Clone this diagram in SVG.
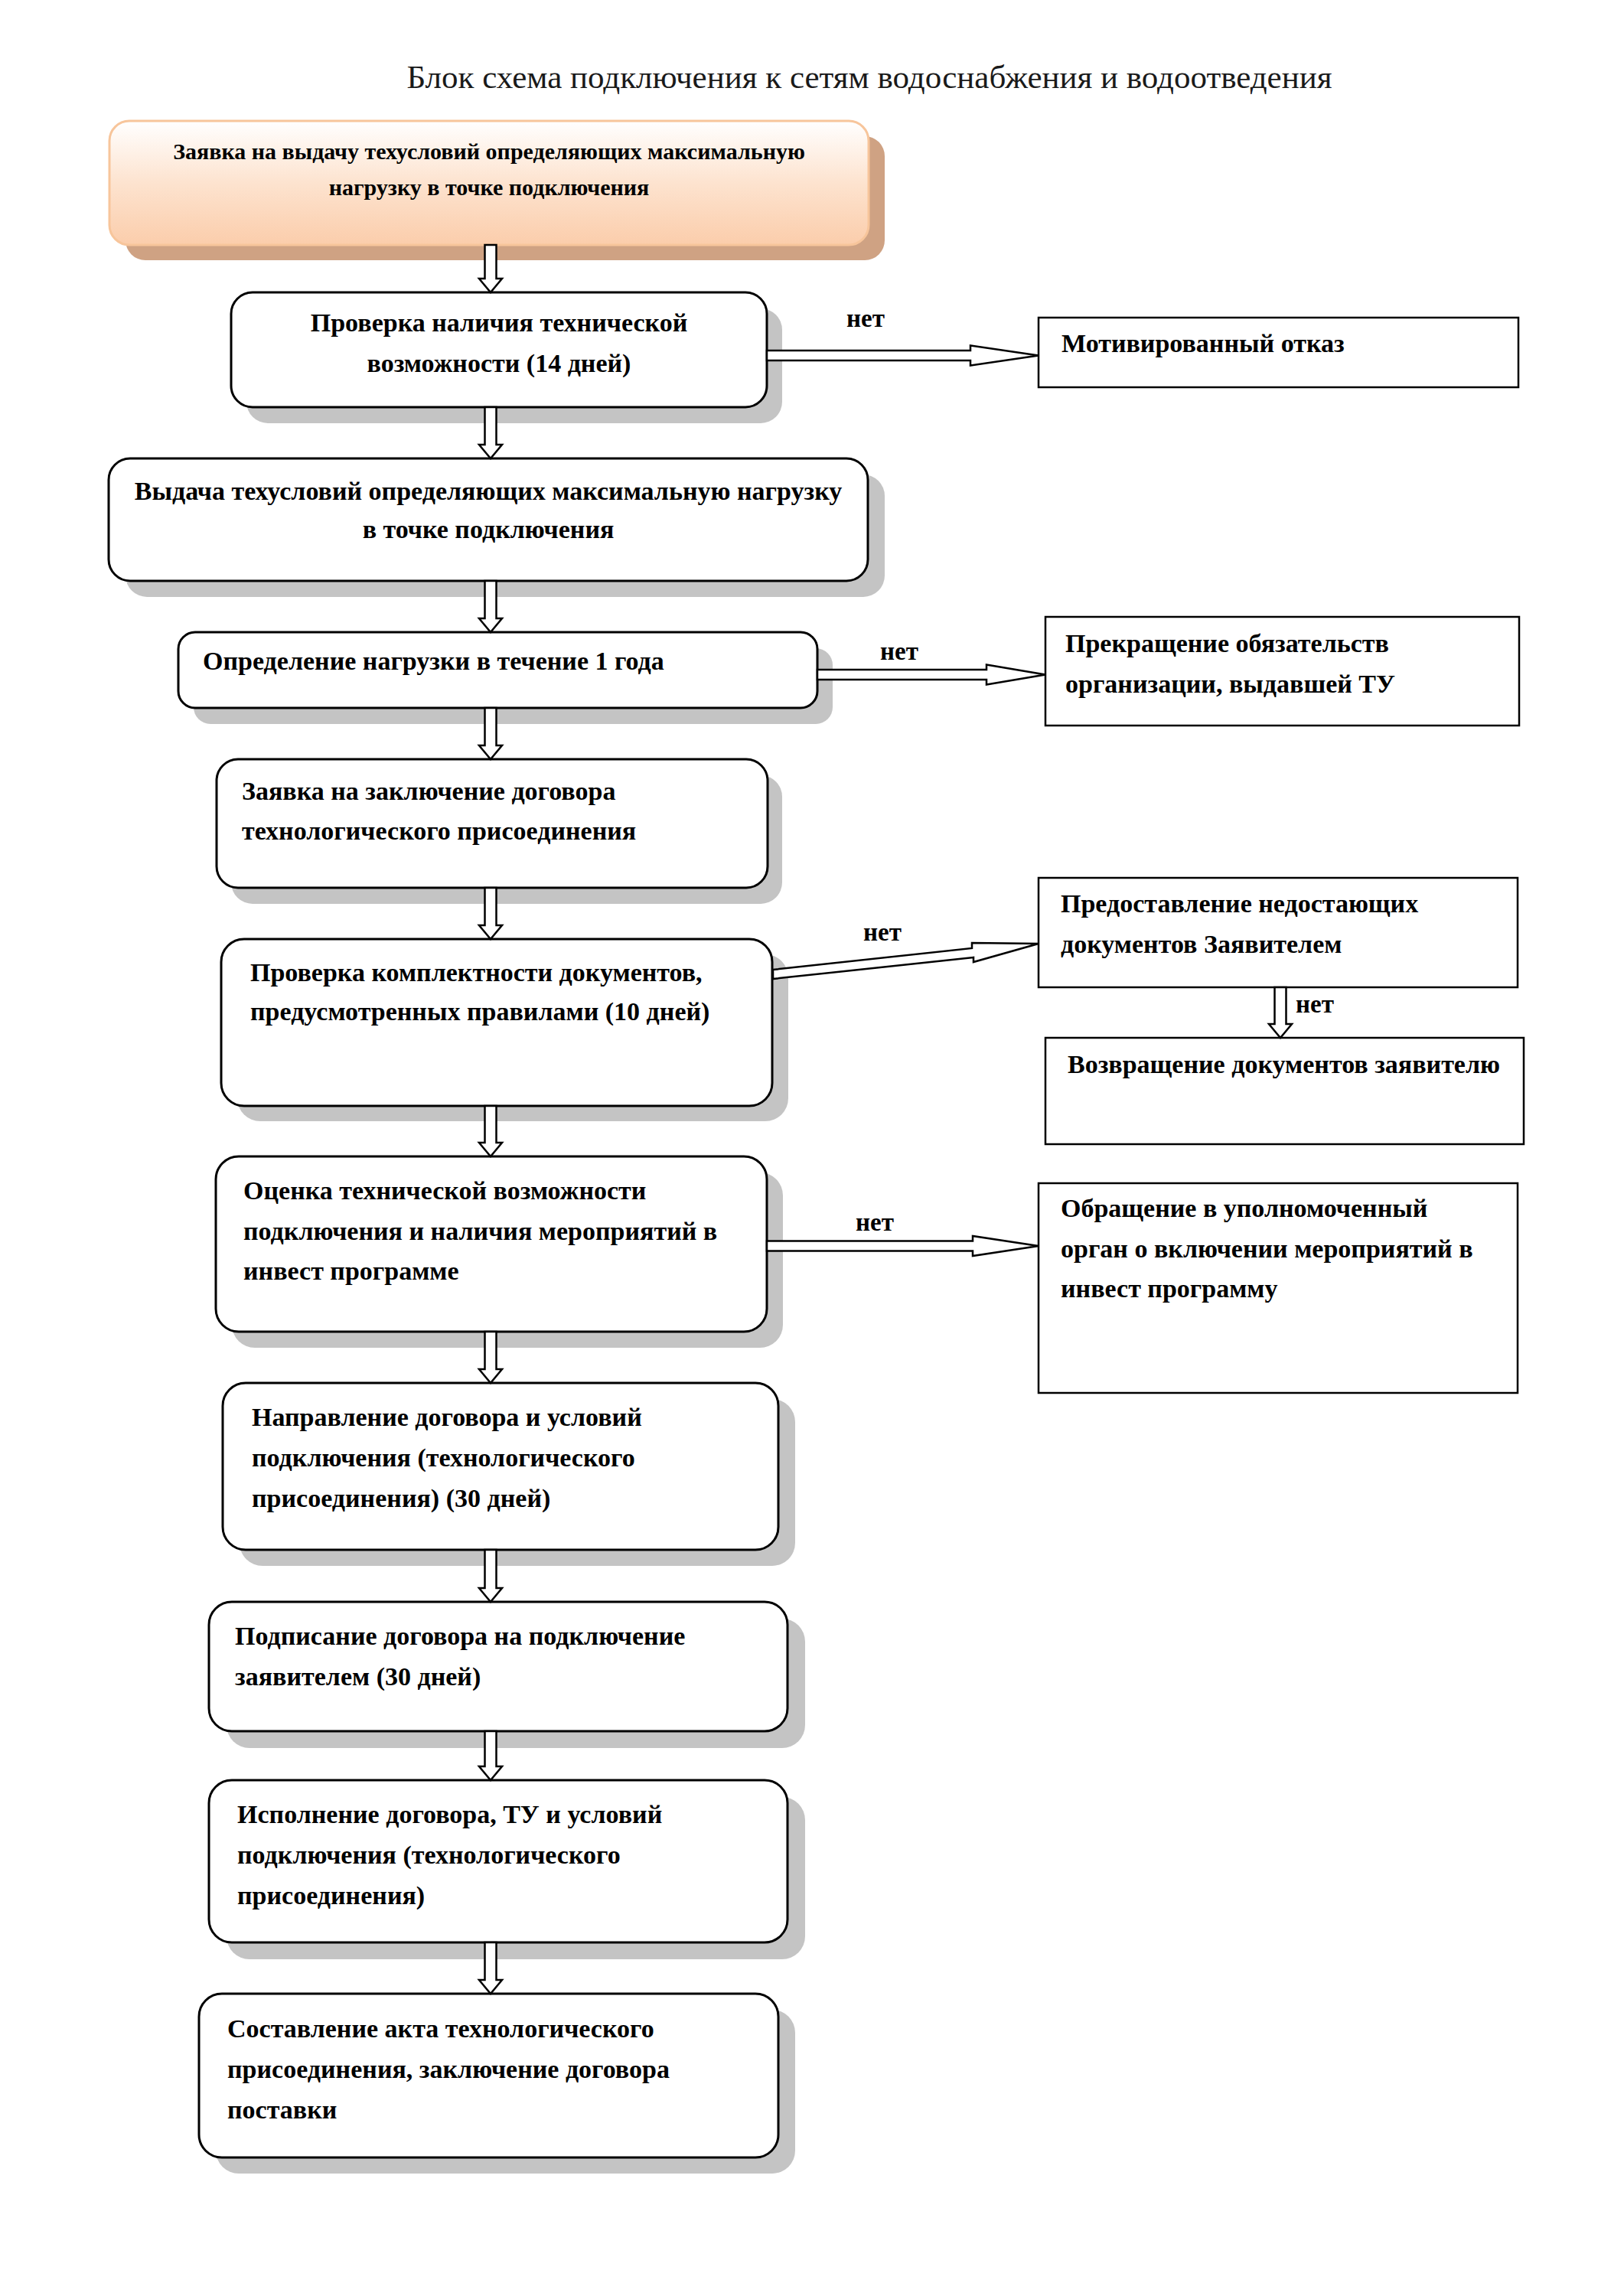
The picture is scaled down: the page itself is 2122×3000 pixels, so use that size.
<svg xmlns="http://www.w3.org/2000/svg" width="2122" height="3000" viewBox="0 0 2122 3000">
<style>
.t{font-family:"Liberation Serif","Times New Roman",serif;font-weight:bold;font-size:34px;fill:#000}
.t1{font-size:30px}
.c{text-anchor:middle}
.title{font-family:"Liberation Serif","Times New Roman",serif;font-size:43px;fill:#1a1a1a;text-anchor:middle}
.box{fill:#fff;stroke:#000;stroke-width:3}
.sh{fill:#c4c4c4}
.rbox{fill:#fff;stroke:#000;stroke-width:2.5}
.arr{fill:#fff;stroke:#000;stroke-width:2.5;stroke-linejoin:miter}
.lbl{font-family:"Liberation Serif","Times New Roman",serif;font-weight:bold;font-size:33px;fill:#000}
</style>
<defs>
<linearGradient id="peach" x1="0" y1="0" x2="0" y2="1">
<stop offset="0" stop-color="#ffffff"/>
<stop offset="0.5" stop-color="#fde3cf"/>
<stop offset="1" stop-color="#fbcdab"/>
</linearGradient>
</defs>
<rect width="2122" height="3000" fill="#fff"/>
<text class="title" x="1136" y="115">Блок схема подключения к сетям водоснабжения и водоотведения</text>

<g id="n1">
<rect x="164" y="178" width="992" height="162" rx="26" fill="#cfa283"/>
<rect x="143" y="158" width="992" height="162" rx="26" fill="url(#peach)" stroke="#f7c59b" stroke-width="3"/>
<text class="t t1 c" x="639" y="208">Заявка на выдачу техусловий определяющих максимальную</text>
<text class="t t1 c" x="639" y="255">нагрузку в точке подключения</text>
</g>
<g id="n2">
<rect class="sh" x="322" y="403" width="700" height="150" rx="28"/>
<rect class="box" x="302" y="382" width="700" height="150" rx="28"/>
<text class="t c" x="652" y="433">Проверка наличия технической</text>
<text class="t c" x="652" y="486">возможности (14 дней)</text>
</g>
<g id="n3">
<rect class="sh" x="164" y="620" width="992" height="160" rx="28"/>
<rect class="box" x="142" y="599" width="992" height="160" rx="28"/>
<text class="t c" x="638" y="653">Выдача техусловий определяющих максимальную нагрузку</text>
<text class="t c" x="638" y="703">в точке подключения</text>
</g>
<g id="n4">
<rect class="sh" x="253" y="847" width="835" height="99" rx="22"/>
<rect class="box" x="233" y="826" width="835" height="99" rx="22"/>
<text class="t" x="265" y="875">Определение нагрузки в течение 1 года</text>
</g>
<g id="n5">
<rect class="sh" x="302" y="1013" width="720" height="168" rx="28"/>
<rect class="box" x="283" y="992" width="720" height="168" rx="28"/>
<text class="t" x="316" y="1045">Заявка на заключение договора</text>
<text class="t" x="316" y="1097">технологического присоединения</text>
</g>
<g id="n6">
<rect class="sh" x="310" y="1247" width="720" height="218" rx="30"/>
<rect class="box" x="289" y="1227" width="720" height="218" rx="30"/>
<text class="t" x="327" y="1282">Проверка комплектности документов,</text>
<text class="t" x="327" y="1333">предусмотренных правилами (10 дней)</text>
</g>
<g id="n7">
<rect class="sh" x="303" y="1532" width="720" height="229" rx="30"/>
<rect class="box" x="282" y="1511" width="720" height="229" rx="30"/>
<text class="t" x="318" y="1567">Оценка технической возможности</text>
<text class="t" x="318" y="1620">подключения и наличия мероприятий в</text>
<text class="t" x="318" y="1672">инвест программе</text>
</g>
<g id="n8">
<rect class="sh" x="313" y="1828" width="726" height="218" rx="30"/>
<rect class="box" x="291" y="1807" width="726" height="218" rx="30"/>
<text class="t" x="329" y="1863">Направление договора и условий</text>
<text class="t" x="329" y="1916">подключения (технологического</text>
<text class="t" x="329" y="1969">присоединения) (30 дней)</text>
</g>
<g id="n9">
<rect class="sh" x="296" y="2115" width="756" height="169" rx="30"/>
<rect class="box" x="273" y="2093" width="756" height="169" rx="30"/>
<text class="t" x="307" y="2149">Подписание договора на подключение</text>
<text class="t" x="307" y="2202">заявителем (30 дней)</text>
</g>
<g id="n10">
<rect class="sh" x="296" y="2348" width="756" height="212" rx="30"/>
<rect class="box" x="273" y="2326" width="756" height="212" rx="30"/>
<text class="t" x="310" y="2382">Исполнение договора, ТУ и условий</text>
<text class="t" x="310" y="2435">подключения (технологического</text>
<text class="t" x="310" y="2488">присоединения)</text>
</g>
<g id="n11">
<rect class="sh" x="282" y="2626" width="757" height="214" rx="30"/>
<rect class="box" x="260" y="2605" width="757" height="214" rx="30"/>
<text class="t" x="297" y="2662">Составление акта технологического</text>
<text class="t" x="297" y="2715">присоединения, заключение договора</text>
<text class="t" x="297" y="2768">поставки</text>
</g>

<g id="r1">
<rect class="rbox" x="1357" y="415" width="627" height="91"/>
<text class="t" x="1387" y="460">Мотивированный отказ</text>
</g>
<g id="r2">
<rect class="rbox" x="1366" y="806" width="619" height="142"/>
<text class="t" x="1392" y="852">Прекращение обязательств</text>
<text class="t" x="1392" y="905">организации, выдавшей ТУ</text>
</g>
<g id="r3">
<rect class="rbox" x="1357" y="1147" width="626" height="143"/>
<text class="t" x="1386" y="1192">Предоставление недостающих</text>
<text class="t" x="1386" y="1245">документов Заявителем</text>
</g>
<g id="r4">
<rect class="rbox" x="1366" y="1356" width="625" height="139"/>
<text class="t" x="1395" y="1402">Возвращение документов заявителю</text>
</g>
<g id="r5">
<rect class="rbox" x="1357" y="1546" width="626" height="274"/>
<text class="t" x="1386" y="1590">Обращение в уполномоченный</text>
<text class="t" x="1386" y="1643">орган о включении мероприятий в</text>
<text class="t" x="1386" y="1695">инвест программу</text>
</g>

<g id="connectors">
<path class="arr" d="M633.5,320 L648.5,320 L648.5,364 L656,364 L641,382 L626,364 L633.5,364 Z"/>
<path class="arr" d="M633.5,532 L648.5,532 L648.5,581 L656,581 L641,599 L626,581 L633.5,581 Z"/>
<path class="arr" d="M633.5,759 L648.5,759 L648.5,808 L656,808 L641,826 L626,808 L633.5,808 Z"/>
<path class="arr" d="M633.5,925 L648.5,925 L648.5,974 L656,974 L641,992 L626,974 L633.5,974 Z"/>
<path class="arr" d="M633.5,1160 L648.5,1160 L648.5,1209 L656,1209 L641,1227 L626,1209 L633.5,1209 Z"/>
<path class="arr" d="M633.5,1445 L648.5,1445 L648.5,1493 L656,1493 L641,1511 L626,1493 L633.5,1493 Z"/>
<path class="arr" d="M633.5,1740 L648.5,1740 L648.5,1789 L656,1789 L641,1807 L626,1789 L633.5,1789 Z"/>
<path class="arr" d="M633.5,2025 L648.5,2025 L648.5,2075 L656,2075 L641,2093 L626,2075 L633.5,2075 Z"/>
<path class="arr" d="M633.5,2262 L648.5,2262 L648.5,2308 L656,2308 L641,2326 L626,2308 L633.5,2308 Z"/>
<path class="arr" d="M633.5,2538 L648.5,2538 L648.5,2587 L656,2587 L641,2605 L626,2587 L633.5,2587 Z"/>
<path class="arr" d="M1665.5,1290 L1680.5,1290 L1680.5,1338 L1688,1338 L1673,1356 L1658,1338 L1665.5,1338 Z"/>
<path class="arr" d="M1002,458 L1268,458 L1268,451.5 L1357,464.5 L1268,477.5 L1268,471 L1002,471 Z"/>
<path class="arr" d="M1068,875 L1289,875 L1289,868.5 L1366,881.5 L1289,894.5 L1289,888 L1068,888 Z"/>
<path class="arr" d="M1010,1267 L1270,1239 L1270,1232 L1357,1233 L1272,1257 L1272,1251 L1010,1279 Z"/>
<path class="arr" d="M1002,1621.5 L1271,1621.5 L1271,1615 L1357,1628 L1271,1641 L1271,1634.5 L1002,1634.5 Z"/>
<text class="lbl" x="1106" y="427">нет</text>
<text class="lbl" x="1150" y="862">нет</text>
<text class="lbl" x="1128" y="1229">нет</text>
<text class="lbl" x="1118" y="1608">нет</text>
<text class="lbl" x="1693" y="1323">нет</text>
</g>
</svg>
